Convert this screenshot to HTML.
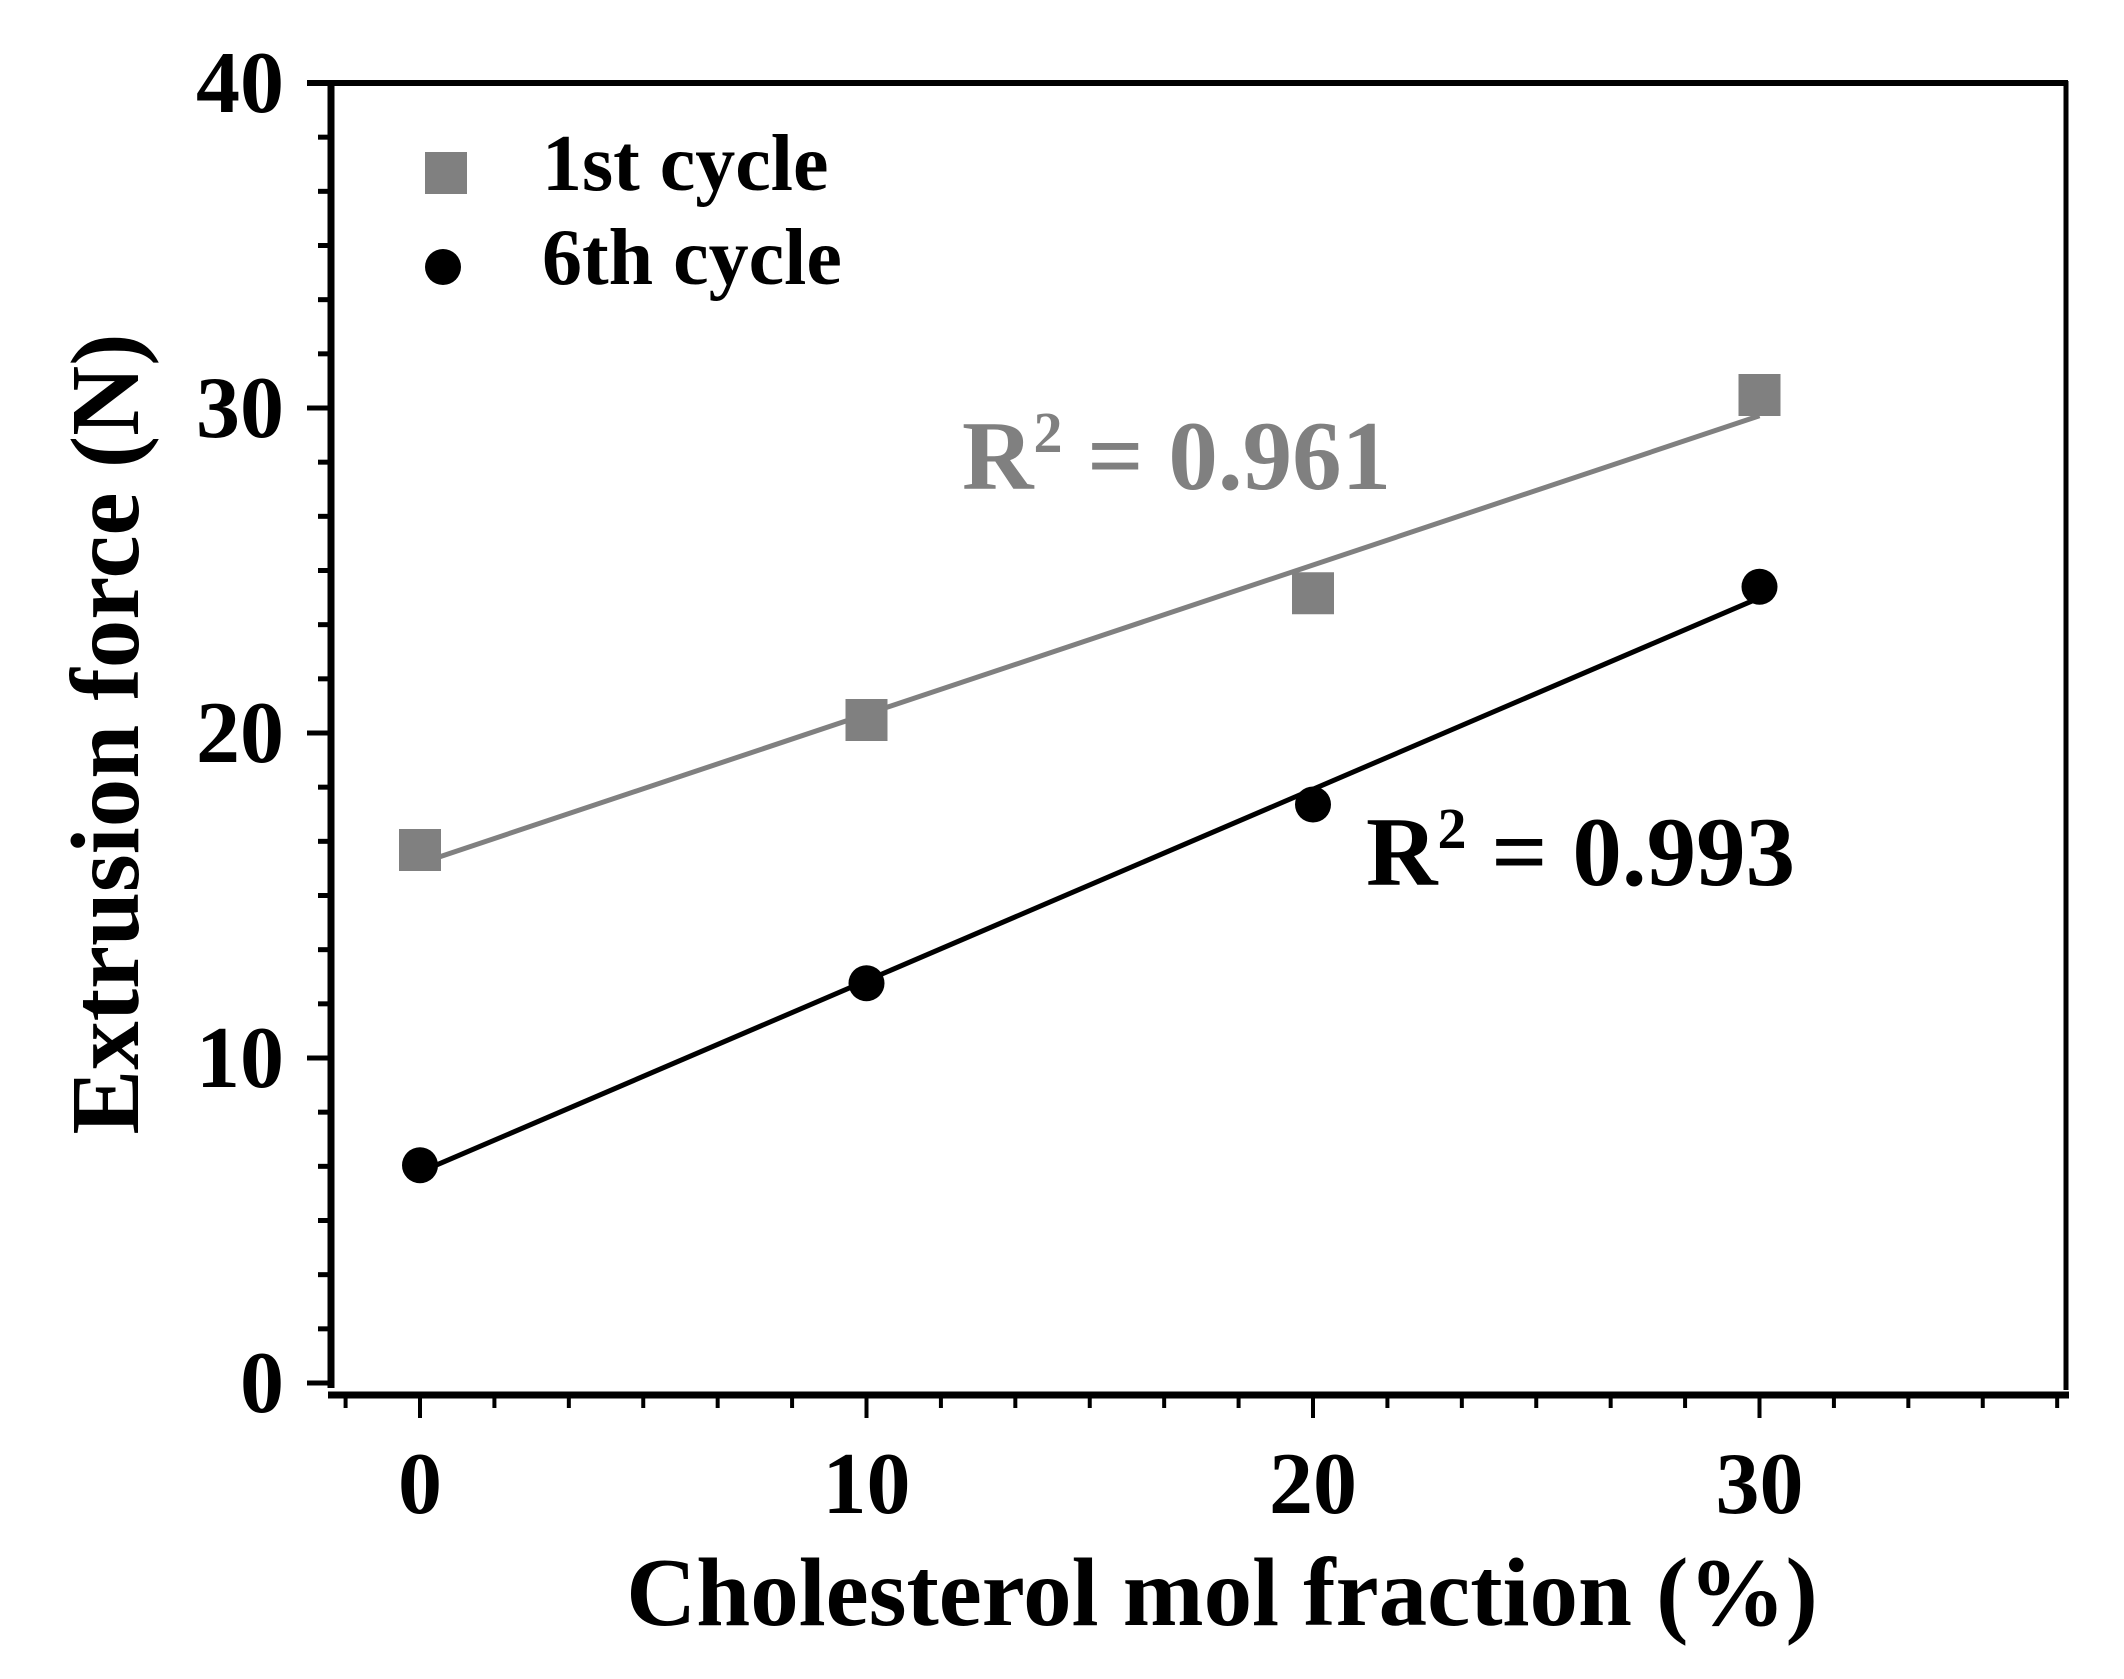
<!DOCTYPE html>
<html><head><meta charset="utf-8"><style>
html,body{margin:0;padding:0;background:#fff;}
svg{display:block;font-family:"Liberation Serif",serif;font-weight:bold;}
</style></head><body>
<svg id="chart" width="2124" height="1679" viewBox="0 0 2124 1679">
<g id="axes"></g>
<g id="fits"></g>
<g id="marks"></g>
<g>
 <rect x="425" y="152" width="42" height="42" fill="#808080"/>
 <text x="542" y="190" font-size="80">1st cycle</text>
 <circle cx="443" cy="267" r="18" fill="#000"/>
 <text x="542" y="284" font-size="80">6th cycle</text>
</g>
<text x="962" y="489" font-size="99" fill="#808080">R<tspan font-size="58" dy="-37">2</tspan><tspan dy="37"> = 0.961</tspan></text>
<text x="1366" y="885" font-size="99" fill="#000">R<tspan font-size="58" dy="-37">2</tspan><tspan dy="37"> = 0.993</tspan></text>
<text x="1222" y="1625" font-size="97" text-anchor="middle">Cholesterol mol fraction (%)</text>
<text transform="translate(138,734) rotate(-90)" font-size="97" text-anchor="middle">Extrusion force (N)</text>
</svg>
<script>
const categories = [0, 10, 20, 30];
const series1st = [16.4, 20.4, 24.3, 30.4];
const series6th = [6.7, 12.3, 17.8, 24.5];
const xTicks = ["0", "10", "20", "30"];
const yTicks = ["0", "10", "20", "30", "40"];

const NS = "http://www.w3.org/2000/svg";
const X0 = 420, XS = 44.65, Y0 = 1383, YS = 32.5;
const xp = v => X0 + v * XS;
const yp = v => Y0 - v * YS;
function mk(tag, attrs, parent) {
  const e = document.createElementNS(NS, tag);
  for (const k in attrs) e.setAttribute(k, attrs[k]);
  parent.appendChild(e);
  return e;
}
const axes = document.getElementById('axes');
let e;
e = mk('line', {x1: 331, y1: 81, x2: 331, y2: 1388, stroke: '#000', 'stroke-width': 7}, axes);


e = mk('line', {x1: 307, y1: 83, x2: 2068, y2: 83, stroke: '#000', 'stroke-width': 6}, axes);


e = mk('line', {x1: 2066, y1: 81, x2: 2066, y2: 1390, stroke: '#000', 'stroke-width': 5}, axes);


e = mk('line', {x1: 328, y1: 1395, x2: 2069, y2: 1395, stroke: '#000', 'stroke-width': 7}, axes);


for (let i = 0; i <= 24; i++) {
  const v = i * 40 / 24, y = yp(v), major = i % 6 === 0;
  e = mk('line', {x1: major ? 307 : 318, y1: y, x2: 331, y2: y, stroke: '#000', 'stroke-width': 5}, axes);
  
  
}
yTicks.forEach(t => {
  e = mk('text', {x: 284, y: yp(+t) + 29, 'font-size': 88, 'text-anchor': 'end'}, axes);
  e.textContent = t;
  
  
});
for (let i = -1; i <= 22; i++) {
  const v = i * 10 / 6, x = xp(v), major = i % 6 === 0;
  e = mk('line', {x1: x, y1: 1395, x2: x, y2: major ? 1418 : 1408, stroke: '#000', 'stroke-width': 4}, axes);
  
  
}
xTicks.forEach(t => {
  e = mk('text', {x: xp(+t), y: 1513, 'font-size': 88, 'text-anchor': 'middle'}, axes);
  e.textContent = t;
  
  
});
function fit(ys) {
  const n = categories.length;
  const mx = categories.reduce((a, b) => a + b, 0) / n, my = ys.reduce((a, b) => a + b, 0) / n;
  let sxy = 0, sxx = 0;
  categories.forEach((x, i) => { sxy += (x - mx) * (ys[i] - my); sxx += (x - mx) * (x - mx); });
  const b = sxy / sxx; return [my - b * mx, b];
}
const fits = document.getElementById('fits');
[[series1st, '#808080', 'fit-line-1st'], [series6th, '#000', 'fit-line-6th']].forEach(([ys, c, n]) => {
  const [a, b] = fit(ys);
  const x1 = categories[0], x2 = categories[categories.length - 1];
  e = mk('line', {x1: xp(x1), y1: yp(a + b * x1), x2: xp(x2), y2: yp(a + b * x2), stroke: c, 'stroke-width': 5}, fits);
  
  
});
const marks = document.getElementById('marks');
categories.forEach((c, i) => {
  e = mk('rect', {x: xp(c) - 21, y: yp(series1st[i]) - 21, width: 42, height: 42, fill: '#808080'}, marks);
  
  
  e = mk('circle', {cx: xp(c), cy: yp(series6th[i]), r: 18, fill: '#000'}, marks);
  
  
});
</script>
</body></html>
